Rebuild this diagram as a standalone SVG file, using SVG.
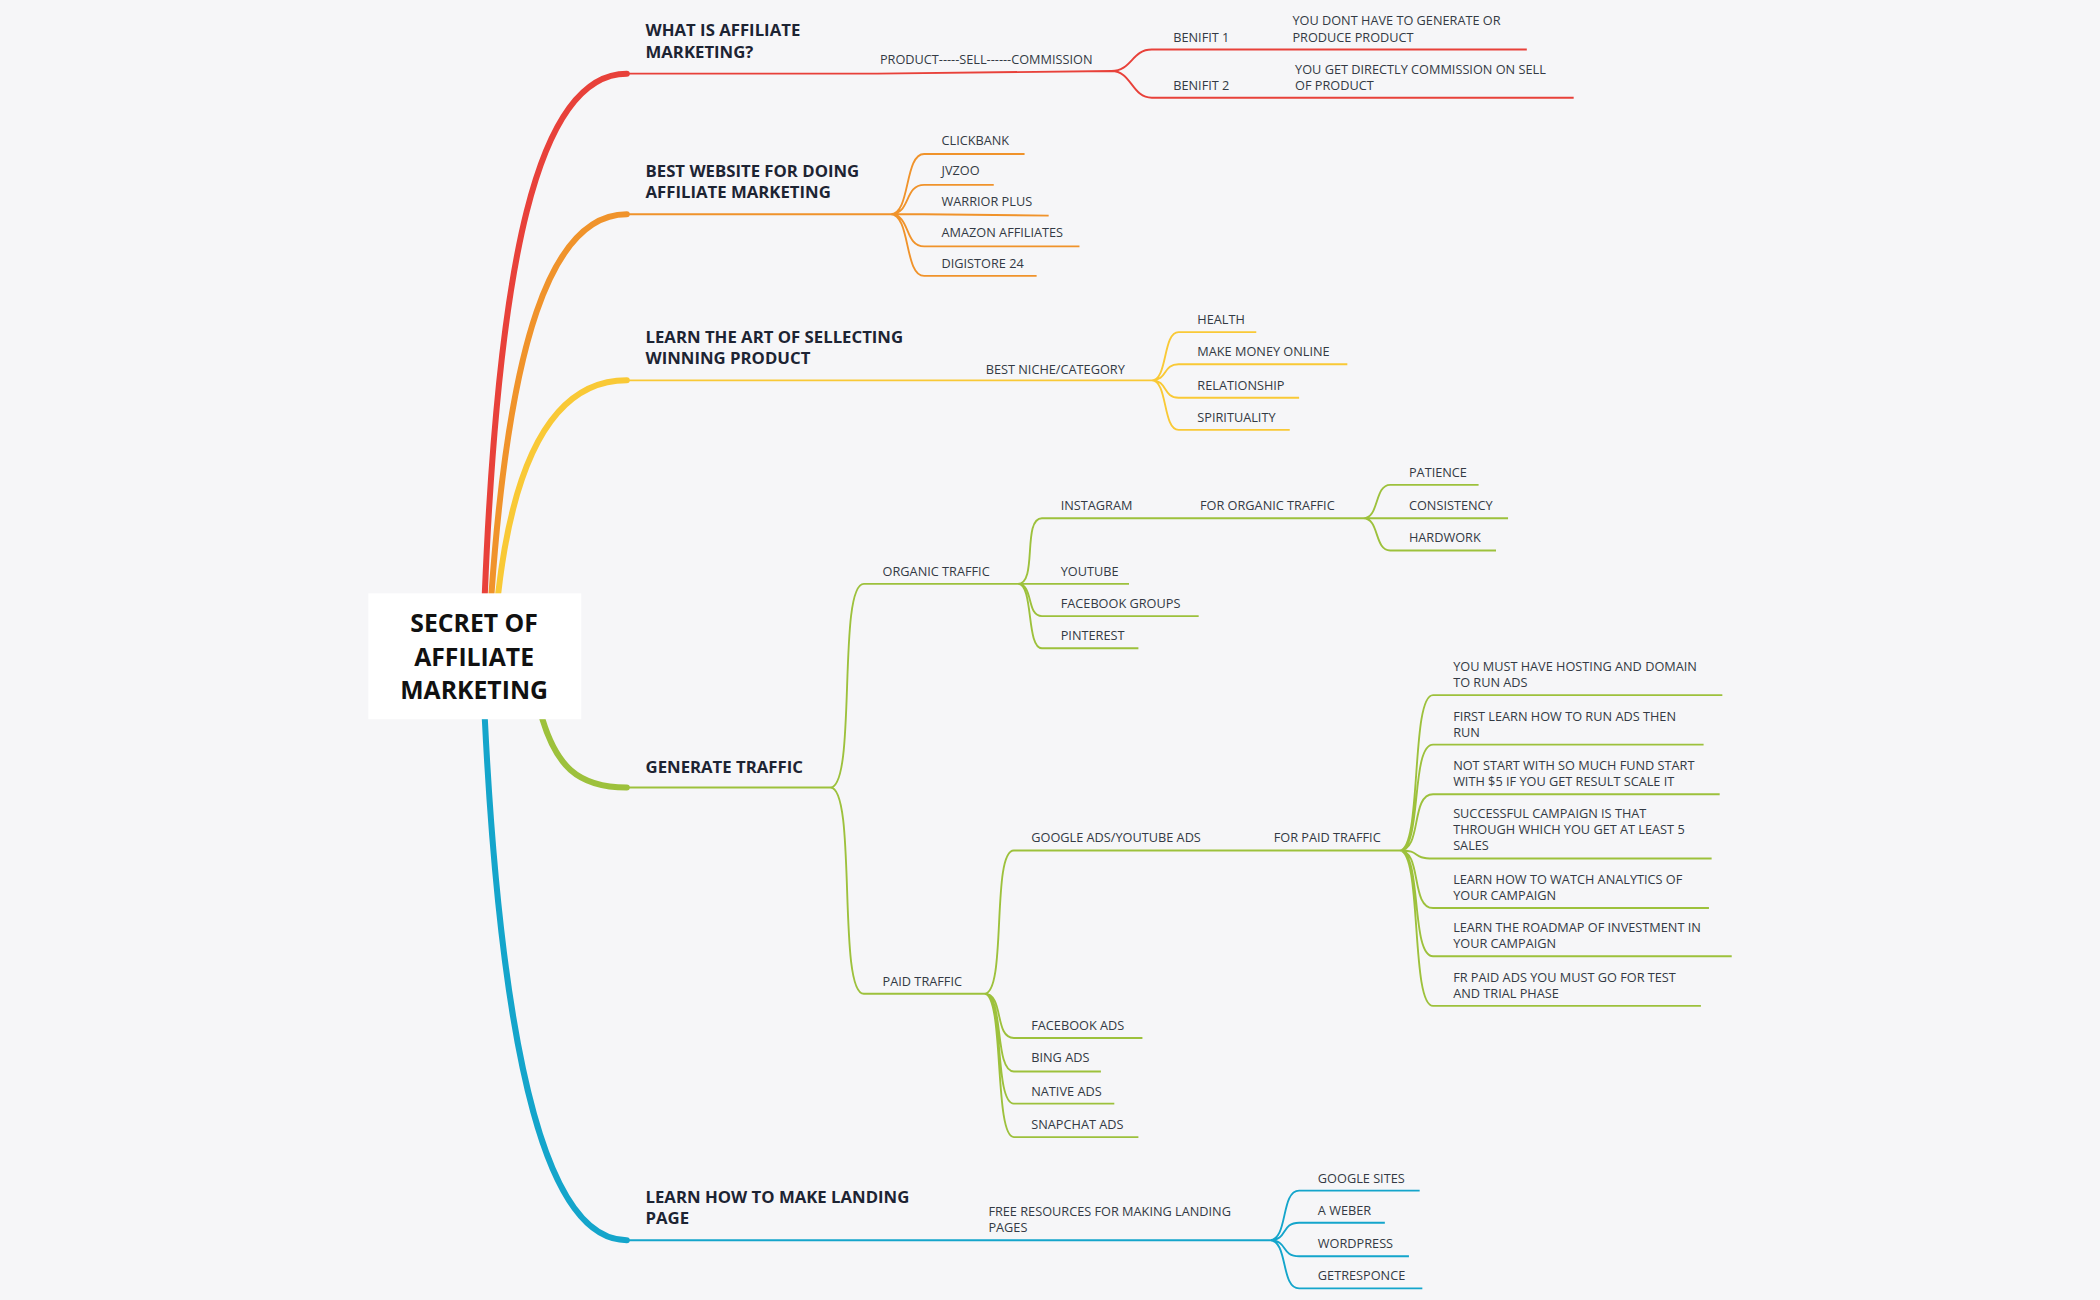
<svg xmlns="http://www.w3.org/2000/svg" width="2100" height="1300" viewBox="0 0 2100 1300">
<style>
text{font-family:"Open Sans","Liberation Sans",sans-serif;fill:#333a44}
.t{font-size:12.5px;font-weight:700;fill:#1d2433}
.l{font-size:9.5px}
.c{fill:none;stroke-width:1.4}
.m{fill:none;stroke-width:4.5;stroke-linecap:round}
.r{stroke:#e8413a}.o{stroke:#f0932b}.y{stroke:#f9c936}.g{stroke:#9dc13c}.b{stroke:#14a5cb}
</style>
<rect width="2100" height="1300" fill="#f6f6f8"/>
<g transform="scale(1.3393)">
<g id="connectors">
<path class="m r" d="M362,443 C372,200 400,55 468,55"/>
<path class="m o" d="M367,443 C380,260 410,160 468,160"/>
<path class="m y" d="M372,443 C385,330 420,284 468,284"/>
<path class="m g" d="M405,537 C415,570 430,588 468,588"/>
<path class="m b" d="M362,537 C375,800 410,926 468,926"/>
<path class="c r" d="M468,55 H655 L830,53 C845,53 845,37 860,37 H1140 M830,53 C845,53 845,73 860,73 H1175"/>
<path class="c o" d="M468,160 H665 C680,160 675,115 690,115 H765 M665,160 C680,160 675,138 690,138 H742 M665,160 H690 L783,161 M665,160 C680,160 675,184 690,184 H806 M665,160 C680,160 675,206 690,206 H774"/>
<path class="c y" d="M468,284 H860 C872,284 868,248 880,248 H938 M860,284 C872,284 868,272 880,272 H1006 M860,284 C872,284 868,297 880,297 H970 M860,284 C872,284 868,321 880,321 H963"/>
<path class="c g" d="M468,588 H620 C640,588 625,436 645,436 H760 M620,588 C640,588 625,742 645,742 H735
M760,436 C775,436 763,387 778,387 H1018 M760,436 H843 M760,436 C772,436 766,460 778,460 H895 M760,436 C772,436 766,484 778,484 H850
M1018,387 C1030,387 1026,362 1038,362 H1104 M1018,387 H1126 M1018,387 C1030,387 1026,411 1038,411 H1117
M735,742 C752,742 740,635 757,635 H1045 M735,742 C750,742 742,775 757,775 H853 M735,742 C750,742 742,800 757,800 H822 M735,742 C750,742 742,824 757,824 H832 M735,742 C750,742 742,849 757,849 H850
M1045,635 C1062,635 1053,519 1070,519 H1286 M1045,635 C1062,635 1053,556 1070,556 H1272 M1045,635 C1062,635 1053,593 1070,593 H1284 M1045,635 C1062,635 1053,641 1070,641 H1278 M1045,635 C1062,635 1053,678 1070,678 H1276 M1045,635 C1062,635 1053,714 1070,714 H1293 M1045,635 C1062,635 1053,751 1070,751 H1270"/>
<path class="c b" d="M468,926 H948 C962,926 956,889 970,889 H1060 M948,926 C962,926 956,913 970,913 H1034 M948,926 C962,926 956,938 970,938 H1052 M948,926 C962,926 956,962 970,962 H1062"/>
</g>
<g id="center"><rect x="275" y="443" width="159" height="94" fill="#fff"/>
<text x="354" y="472" text-anchor="middle" style="font-size:18.5px;font-weight:700;fill:#111">SECRET OF</text>
<text x="354" y="497" text-anchor="middle" style="font-size:18.5px;font-weight:700;fill:#111">AFFILIATE</text>
<text x="354" y="522" text-anchor="middle" style="font-size:18.5px;font-weight:700;fill:#111">MARKETING</text></g>
<g id="n1"><text class="t" x="482" y="27">WHAT IS AFFILIATE</text><text class="t" x="482" y="43">MARKETING?</text>
<text class="l" x="657" y="48">PRODUCT-----SELL------COMMISSION</text>
<text class="l" x="876" y="31">BENIFIT 1</text><text class="l" x="965" y="19">YOU DONT HAVE TO GENERATE OR</text><text class="l" x="965" y="31">PRODUCE PRODUCT</text>
<text class="l" x="876" y="67">BENIFIT 2</text><text class="l" x="967" y="55">YOU GET DIRECTLY COMMISSION ON SELL</text><text class="l" x="967" y="67">OF PRODUCT</text></g>
<g id="n2"><text class="t" x="482" y="132">BEST WEBSITE FOR DOING</text><text class="t" x="482" y="148">AFFILIATE MARKETING</text>
<text class="l" x="703" y="108">CLICKBANK</text><text class="l" x="703" y="131">JVZOO</text><text class="l" x="703" y="154">WARRIOR PLUS</text><text class="l" x="703" y="177">AMAZON AFFILIATES</text><text class="l" x="703" y="200">DIGISTORE 24</text></g>
<g id="n3"><text class="t" x="482" y="256">LEARN THE ART OF SELLECTING</text><text class="t" x="482" y="272">WINNING PRODUCT</text>
<text class="l" x="736" y="279">BEST NICHE/CATEGORY</text>
<text class="l" x="894" y="242">HEALTH</text><text class="l" x="894" y="266">MAKE MONEY ONLINE</text><text class="l" x="894" y="291">RELATIONSHIP</text><text class="l" x="894" y="315">SPIRITUALITY</text></g>
<g id="n4"><text class="t" x="482" y="577">GENERATE TRAFFIC</text>
<text class="l" x="659" y="430">ORGANIC TRAFFIC</text>
<text class="l" x="792" y="381">INSTAGRAM</text><text class="l" x="896" y="381">FOR ORGANIC TRAFFIC</text>
<text class="l" x="1052" y="356">PATIENCE</text><text class="l" x="1052" y="381">CONSISTENCY</text><text class="l" x="1052" y="405">HARDWORK</text>
<text class="l" x="792" y="430">YOUTUBE</text><text class="l" x="792" y="454">FACEBOOK GROUPS</text><text class="l" x="792" y="478">PINTEREST</text>
<text class="l" x="659" y="736">PAID TRAFFIC</text>
<text class="l" x="770" y="629">GOOGLE ADS/YOUTUBE ADS</text><text class="l" x="951" y="629">FOR PAID TRAFFIC</text>
<text class="l" x="1085" y="501">YOU MUST HAVE HOSTING AND DOMAIN</text><text class="l" x="1085" y="513">TO RUN ADS</text>
<text class="l" x="1085" y="538">FIRST LEARN HOW TO RUN ADS THEN</text><text class="l" x="1085" y="550">RUN</text>
<text class="l" x="1085" y="575">NOT START WITH SO MUCH FUND START</text><text class="l" x="1085" y="587">WITH $5 IF YOU GET RESULT SCALE IT</text>
<text class="l" x="1085" y="611">SUCCESSFUL CAMPAIGN IS THAT</text><text class="l" x="1085" y="623">THROUGH WHICH YOU GET AT LEAST 5</text><text class="l" x="1085" y="635">SALES</text>
<text class="l" x="1085" y="660">LEARN HOW TO WATCH ANALYTICS OF</text><text class="l" x="1085" y="672">YOUR CAMPAIGN</text>
<text class="l" x="1085" y="696">LEARN THE ROADMAP OF INVESTMENT IN</text><text class="l" x="1085" y="708">YOUR CAMPAIGN</text>
<text class="l" x="1085" y="733">FR PAID ADS YOU MUST GO FOR TEST</text><text class="l" x="1085" y="745">AND TRIAL PHASE</text>
<text class="l" x="770" y="769">FACEBOOK ADS</text><text class="l" x="770" y="793">BING ADS</text><text class="l" x="770" y="818">NATIVE ADS</text><text class="l" x="770" y="843">SNAPCHAT ADS</text></g>
<g id="n5"><text class="t" x="482" y="898">LEARN HOW TO MAKE LANDING</text><text class="t" x="482" y="914">PAGE</text>
<text class="l" x="738" y="908">FREE RESOURCES FOR MAKING LANDING</text><text class="l" x="738" y="920">PAGES</text>
<text class="l" x="984" y="883">GOOGLE SITES</text><text class="l" x="984" y="907">A WEBER</text><text class="l" x="984" y="932">WORDPRESS</text><text class="l" x="984" y="956">GETRESPONCE</text></g>
</g>
</svg>
